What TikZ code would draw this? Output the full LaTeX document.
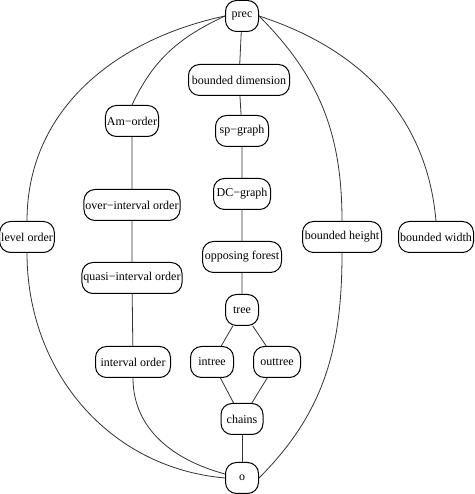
\documentclass[tikz,border=0pt]{standalone}
\usepackage{fontspec}
\setmainfont{Liberation Serif}
\begin{document}
\begin{tikzpicture}[x=1pt,y=1pt,
    cls/.style={draw,line width=1pt,rounded corners=11pt,minimum width=33pt,minimum height=31pt,inner xsep=1.5pt,font=\fontsize{12}{14}\selectfont},
    edge/.style={line width=0.8pt,black!80}]
    \useasboundingbox (0,0) rectangle (474,494);
    \node[cls] (prec) at (242,478) {prec};
    \node[cls,minimum width=101pt] (bdim) at (239,414) {bounded dimension};
    \node[cls,minimum width=53pt] (sp) at (242,363) {sp−graph};
    \node[cls,minimum width=57pt] (dc) at (242,300) {DC−graph};
    \node[cls,minimum width=79pt] (opp) at (242,237) {opposing forest};
    \node[cls] (tree) at (242,184) {tree};
    \node[cls,minimum width=43pt] (intree) at (212,132) {intree};
    \node[cls,minimum width=47pt] (outtree) at (277,132) {outtree};
    \node[cls,minimum width=42pt] (chains) at (242,75) {chains};
    \node[cls] (o) at (242,16) {o};
    \node[cls] (am) at (132,373) {Am−order};
    \node[cls] (over) at (132,289) {over−interval order};
    \node[cls] (quasi) at (132,216) {quasi−interval order};
    \node[cls,minimum width=75pt] (interval) at (133,132) {interval order};
    \node[cls] (level) at (27,257) {level order};
    \node[cls,minimum width=79pt] (bheight) at (342,257) {bounded height};
    \node[cls,minimum width=75pt] (bwidth) at (436,257) {bounded width};
    \draw[edge] (prec) -- (bdim) -- (sp) -- (dc) -- (opp) -- (tree);
    \draw[edge] (tree) -- (intree) -- (chains) -- (outtree) -- (tree);
    \draw[edge] (chains) -- (o);
    \draw[edge] (am) -- (over) -- (quasi) -- (interval);
    \draw[edge] (prec.west) to[out=205,in=65] (am.north);
    \draw[edge] (prec.west) to[out=192,in=90] (level.north);
    \draw[edge] (level.south) to[out=-90,in=175] (o.west);
    \draw[edge] (interval.south) to[out=-90,in=165] ([yshift=4pt]o.west);
    \draw[edge] (prec.east) to[out=-45,in=90] (bheight.north);
    \draw[edge] (bheight.south) to[out=-90,in=45] (o.east);
    \draw[edge] (prec.east) to[out=-18,in=95] (bwidth.north);
\end{tikzpicture}
\end{document}
